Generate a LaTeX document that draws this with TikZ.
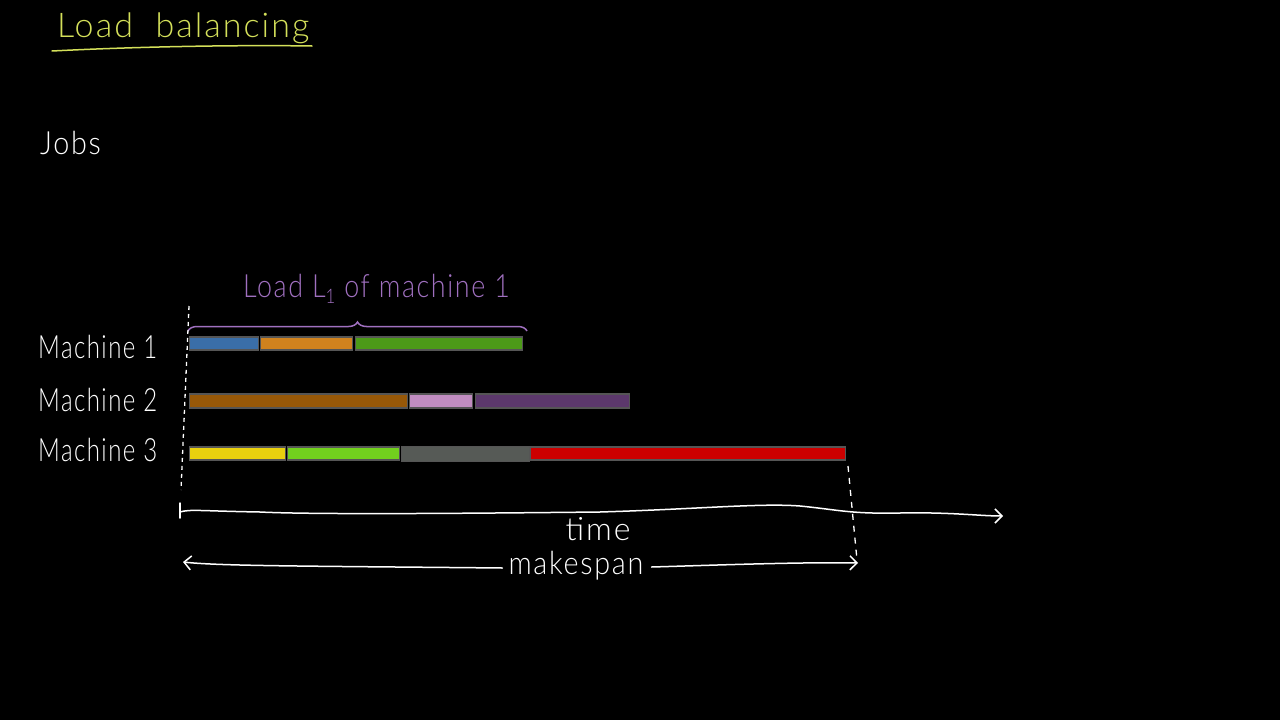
\documentclass[tikz,border=0pt]{standalone}
\usepackage{fontspec}
\setmainfont{Lato}[UprightFont=* Light]
\usetikzlibrary{arrows.meta,decorations.pathreplacing}
\definecolor{titlecol}{HTML}{D4E05A}
\definecolor{loadcol}{HTML}{A070C0}
\definecolor{barline}{HTML}{555555}
\definecolor{jblue}{HTML}{3A6EA8}
\definecolor{jorange}{HTML}{D0821E}
\definecolor{jgreen}{HTML}{4C9A18}
\definecolor{jbrown}{HTML}{975808}
\definecolor{jpink}{HTML}{C08CC0}
\definecolor{jpurple}{HTML}{5C386C}
\definecolor{jyellow}{HTML}{E8D00E}
\definecolor{jlime}{HTML}{72D01E}
\definecolor{jgray}{HTML}{565A56}
\definecolor{jred}{HTML}{CC0000}
\newcommand\hwtext[2]{\scalebox{#1}[1]{#2}}
\tikzset{
  bar/.style={draw=barline, line width=1.2pt, minimum height=13, inner sep=0pt, anchor=west},
  hand/.style={text=white, inner sep=0pt, font=\fontsize{#1}{#1}\selectfont\addfontfeatures{LetterSpace=6}},
  hand/.default=32,
  ink/.style={draw=white, line width=1.5pt, line cap=round, line join=round},
  tip/.style={-{Straight Barb[length=7pt,width=14pt,line width=1.5pt]}},
}
\begin{document}
\begin{tikzpicture}[x=1pt,y=-1pt]
\useasboundingbox[fill=black] (0,0) rectangle (1280,720);

% title
\node[hand=34, text=titlecol, anchor=west] (title) at (57,28) {\hwtext{1.0}{Load\ \ balancing}};
\draw[draw=titlecol, line width=1.5pt, line cap=round] (52,51) .. controls (150,46) and (250,45) .. (312,46);

\node[hand, anchor=west] (jobs) at (40,143) {\hwtext{0.9}{Jobs}};

% machine labels
\node[hand, anchor=west] (mach1) at (38,347) {\hwtext{0.75}{Machine 1}};
\node[hand, anchor=west] (mach2) at (38,400) {\hwtext{0.75}{Machine 2}};
\node[hand, anchor=west] (mach3) at (38,450) {\hwtext{0.75}{Machine 3}};

% machine 1
\node[bar, fill=jblue, minimum width=69] (m1a) at (188.5,343.5) {};
\node[bar, fill=jorange, minimum width=92] (m1b) at (259.5,343.5) {};
\node[bar, fill=jgreen, minimum width=167] (m1c) at (355,343.5) {};
% machine 2
\node[bar, fill=jbrown, minimum width=218, minimum height=14] (m2a) at (189,401) {};
\node[bar, fill=jpink, minimum width=63, minimum height=14] (m2b) at (409,401) {};
\node[bar, fill=jpurple, minimum width=154, minimum height=14] (m2c) at (475,401) {};
% machine 3
\node[bar, fill=jyellow, minimum width=96] (m3a) at (188.5,453.5) {};
\node[bar, fill=jlime, minimum width=112] (m3b) at (287,453.5) {};
\node[bar, fill=jgray, minimum width=128, minimum height=15] (m3c) at (400.5,454) {};
\node[bar, fill=jred, minimum width=315] (m3d) at (530,453.5) {};

% load label and brace
\node[hand, text=loadcol, anchor=west] (loadlbl) at (243,289) {\hwtext{0.84}{Load L\raisebox{-0.35ex}{\fontsize{20}{20}\selectfont 1} of machine 1}};
\draw[draw=loadcol, line width=1.5pt, decorate, decoration={brace, amplitude=9pt}] (188,331) -- (527,331);

% dashed guides
\coordinate (d1top) at (189,306);
\coordinate (d1bot) at (181,490);
\draw[white, line width=1.3pt, dash pattern=on 4pt off 4pt] (d1top) -- (d1bot);
\coordinate (d2top) at (848,466);
\coordinate (d2bot) at (857,560);
\draw[white, line width=1.3pt, dash pattern=on 6pt off 6pt] (d2top) -- (d2bot);

% time axis
\coordinate (t0) at (180,512);
\coordinate (t1) at (1003,516);
\draw[ink] (180,503) -- (180,518);
\draw[ink, tip] (t0) .. controls (190,509) and (200,511) .. (260,512)
  .. controls (320,515) and (500,513) .. (600,512)
  .. controls (700,509) and (760,503) .. (800,506)
  .. controls (840,510) and (850,514) .. (900,513)
  .. controls (950,512) and (980,516) .. (t1);
\node[hand, anchor=center] (time) at (598,529) {\hwtext{1.0}{time}};

% makespan
\coordinate (ms0) at (183,562);
\coordinate (ms1) at (858,563);
\node[hand, anchor=center] (makespan) at (576,566) {\hwtext{0.9}{makespan}};
\draw[ink, tip] (makespan.west) ++(-6,2) .. controls (300,566) and (220,566) .. (ms0);
\draw[ink, tip] (makespan.east) ++(8,1) .. controls (720,565) and (800,562) .. (ms1);
\end{tikzpicture}
\end{document}
